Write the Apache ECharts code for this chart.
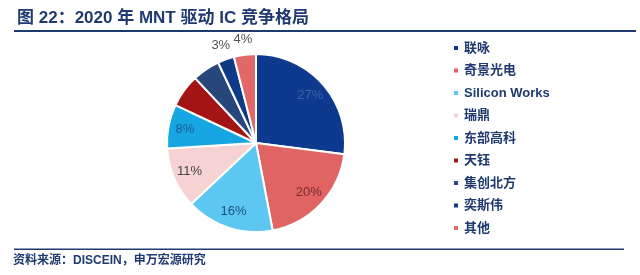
<!DOCTYPE html>
<html><head><meta charset="utf-8">
<script src="https://cdn.jsdelivr.net/npm/echarts@6/dist/echarts.min.js"></script>
<style>html,body{margin:0;padding:0;background:#fff}#c{width:640px;height:275px}</style>
</head><body><div id="c"></div>
<script>
const categories = ['联咏','奇景光电','Silicon Works','瑞鼎','东部高科','天钰','集创北方','奕斯伟','其他'];
const shares = [27, 20, 16, 11, 8, 6, 5, 3, 4];
const colors = ['#0d3a8e','#e06464','#5cc8f2','#f6d2d2','#16a6e2','#a31414','#27467a','#0f3a88','#e26868'];
const labelColors = ['#3d63a8','#7a2c2c','#1f4e7a','#444444','#1b5c8e','#a31414','#27467a','#555555','#555555'];
const insideShown = [true,true,true,true,true,false,false,false,false];
const outsideShown = [false,false,false,false,false,false,false,true,true];
const titleText = '图 22：2020 年 MNT 驱动 IC 竞争格局';
const sourceText = '资料来源：DISCEIN，申万宏源研究';

const FONT = '"Liberation Sans","Noto Sans CJK SC",sans-serif';
const chart = echarts.init(document.getElementById('c'));
const center = [256, 143];
const R = 89;
const main = categories.map((n,i)=>({name:n,value:shares[i],itemStyle:{color:colors[i]}}));
const inner = categories.map((n,i)=>({name:n,value:shares[i],
  label:{show:insideShown[i],color:labelColors[i]}}));
const outer = categories.map((n,i)=>({name:n,value:shares[i],
  label:{show:outsideShown[i],color:labelColors[i]}}));
chart.setOption({
  animation:false,
  title:{text:titleText,left:12,top:5,textStyle:{fontFamily:FONT,fontSize:17,fontWeight:'bold',color:'#1f3a70'}},
  legend:{orient:'vertical',left:447,top:36,itemWidth:6,itemHeight:6,icon:'rect',itemGap:8.5,
    data:categories,
    textStyle:{fontFamily:FONT,fontSize:13,fontWeight:'bold',color:'#1f3a70',lineHeight:14},
    selectedMode:false},
  graphic:[
    {type:'rect',shape:{x:14,y:30,width:622,height:2},style:{fill:'#1f3a70'}},
    {type:'rect',shape:{x:14,y:248.5,width:610,height:1.5},style:{fill:'#1f3a70'}},
    {type:'text',left:13,top:255,style:{text:sourceText,font:'bold 12px '+FONT,fill:'#1f3a70'}}
  ],
  series:[
    {type:'pie',center:center,radius:[0,R],startAngle:90,clockwise:true,
     itemStyle:{borderColor:'#fff',borderWidth:2},
     label:{show:false},labelLine:{show:false},
     data:main},
    {type:'pie',center:center,radius:[R*0.56,R],startAngle:90,clockwise:true,silent:true,
     itemStyle:{color:'rgba(0,0,0,0)',borderWidth:0},
     label:{position:'inside',formatter:'{c}%',fontFamily:FONT,fontSize:13},
     labelLine:{show:false},
     data:inner},
    {type:'pie',center:center,radius:[R,R+24],startAngle:90,clockwise:true,silent:true,
     itemStyle:{color:'rgba(0,0,0,0)',borderWidth:0},
     label:{position:'inside',formatter:'{c}%',fontFamily:FONT,fontSize:13},
     labelLine:{show:false},
     data:outer}
  ]
});
</script></body></html>
